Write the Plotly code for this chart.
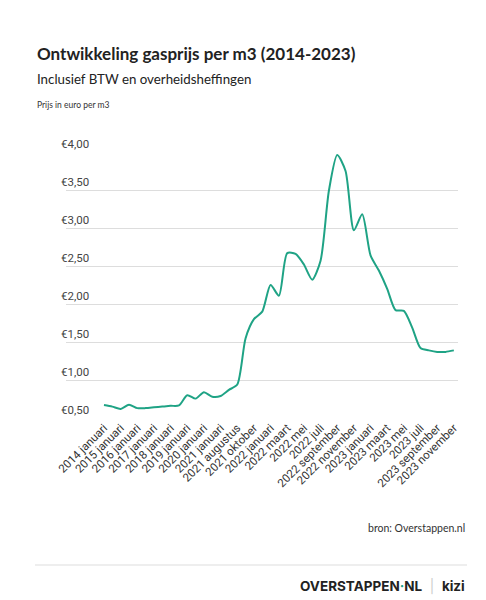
import plotly.graph_objects as go

# maanden (elke tweede is gelabeld op de as)
maanden = ["2014 januari", "2014 juli", "2015 januari", "2015 juli", "2016 januari", "2016 juli",
           "2017 januari", "2017 juli", "2018 januari", "2018 juli", "2019 januari", "2019 juli",
           "2020 januari", "2020 juli", "2021 januari", "2021 mei", "2021 augustus", "2021 september",
           "2021 oktober", "2021 december", "2022 januari", "2022 februari", "2022 maart", "2022 april",
           "2022 mei", "2022 juni", "2022 juli", "2022 augustus", "2022 september", "2022 oktober",
           "2022 november", "2022 december", "2023 januari", "2023 februari", "2023 maart", "2023 april",
           "2023 mei", "2023 juni", "2023 juli", "2023 augustus", "2023 september", "2023 oktober",
           "2023 november"]
prijs = [0.67, 0.65, 0.62, 0.675, 0.63, 0.63, 0.64, 0.65, 0.66, 0.665, 0.80, 0.755,
         0.84, 0.78, 0.79, 0.87, 0.94, 1.55, 1.80, 1.90, 2.25, 2.11, 2.67, 2.66,
         2.52, 2.32, 2.57, 3.49, 3.96, 3.75, 2.97, 3.18, 2.64, 2.44, 2.20, 1.92,
         1.91, 1.69, 1.42, 1.39, 1.37, 1.37, 1.39]
as_labels = maanden[::2]
y_ticks = [0.5, 1.0, 1.5, 2.0, 2.5, 3.0, 3.5, 4.0]
y_labels = ["€0,50", "€1,00", "€1,50", "€2,00", "€2,50", "€3,00", "€3,50", "€4,00"]

groen = "#1fa385"
tekst = "#333333"
fnt = "Lato"

fig = go.Figure()
fig.add_trace(go.Scatter(x=maanden, y=prijs, mode="lines",
                         line=dict(color=groen, width=2, shape="spline", smoothing=0.7),
                         hoverinfo="x+y"))

fig.update_layout(
    width=486, height=600,
    margin=dict(l=58, r=36, t=144, b=190),
    paper_bgcolor="white", plot_bgcolor="white",
    showlegend=False,
    font=dict(family=fnt, color=tekst),
    xaxis=dict(type="category", range=[-4.56, 42.5], tickmode="array",
               tickvals=as_labels, ticktext=as_labels, tickangle=-45,
               tickfont=dict(size=11.5, color=tekst, family="Roboto"),
               showgrid=False, zeroline=False, showline=False, ticks=""),
    yaxis=dict(range=[0.5, 4.0], tickmode="array", tickvals=y_ticks, ticktext=y_labels,
               ticklabelposition="inside top", ticklabeloverflow="allow", ticklabelstandoff=-8,
               tickfont=dict(size=11.5, color="#444444", family="Roboto"),
               showgrid=True, gridcolor="#dddddd", gridwidth=1,
               zeroline=False, showline=False, ticks=""),
)

# teksten rond de grafiek (posities in paper-coordinaten van het plotvlak 58..450 x 144..410)
def px(x):
    return (x - 58) / 392

def py(y):
    return (410 - y) / 266

fig.add_annotation(text="<b>Ontwikkeling gasprijs per m3 (2014-2023)</b>", xref="paper", yref="paper",
                   x=px(27), y=py(45), showarrow=False, xanchor="left", yanchor="middle",
                   font=dict(size=17, color="#222222", family=fnt))
fig.add_annotation(text="Inclusief BTW en overheidsheffingen", xref="paper", yref="paper",
                   x=px(27), y=py(71), showarrow=False, xanchor="left", yanchor="middle",
                   font=dict(size=13.3, color="#222222", family=fnt))
fig.add_annotation(text="Prijs in euro per m3", xref="paper", yref="paper",
                   x=px(27), y=py(97), showarrow=False, xanchor="left", yanchor="middle",
                   font=dict(size=8.5, color="#333333", family=fnt))
fig.add_annotation(text="bron: Overstappen.nl", xref="paper", yref="paper",
                   x=px(459), y=py(520), showarrow=False, xanchor="right", yanchor="middle",
                   font=dict(size=10.5, color="#333333", family=fnt))
fig.add_shape(type="line", xref="paper", yref="paper",
              x0=px(27), x1=px(459), y0=py(557), y1=py(557),
              line=dict(color="#dddddd", width=1))
fig.add_annotation(text="<b>OVERSTAPPEN<span style='color:#1fa385'>·</span>NL</b>"
                        "  <span style='color:#cccccc'>|</span>  <b>kizi</b>",
                   xref="paper", yref="paper",
                   x=px(459), y=py(578), showarrow=False, xanchor="right", yanchor="middle",
                   font=dict(size=13.5, color="#222222", family="Inter"))

fig.write_html("out.html")
